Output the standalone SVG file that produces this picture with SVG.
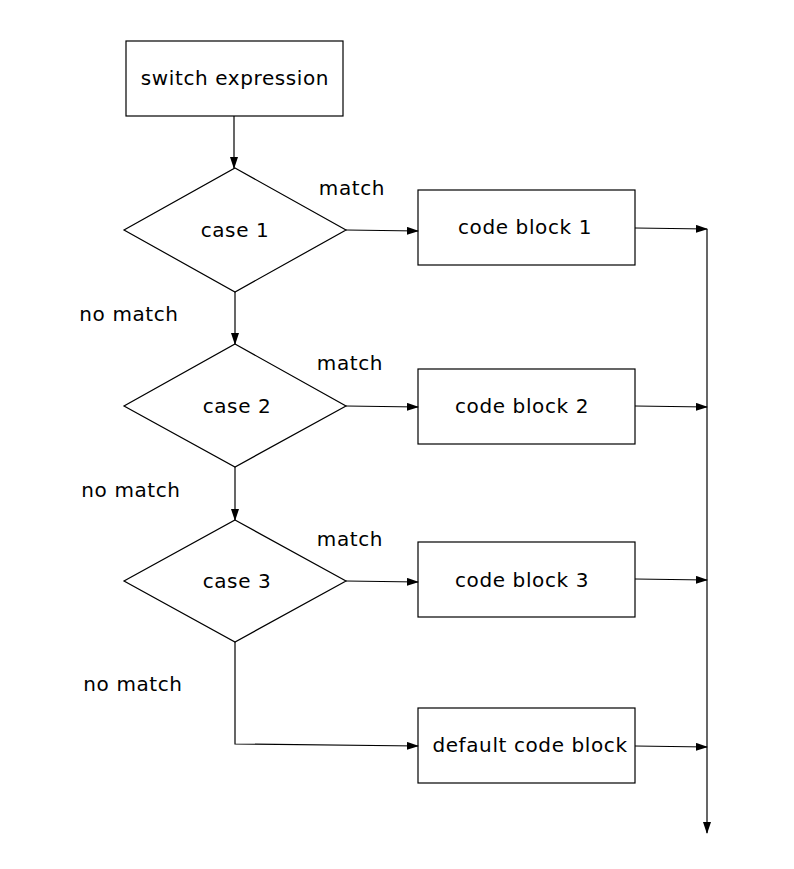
<svg xmlns="http://www.w3.org/2000/svg" width="794" height="869" viewBox="0 0 794 869">
<style>
.n{fill:#fff;stroke:#000;stroke-width:1.2}
.t{font-family:"DejaVu Sans",Verdana,sans-serif;font-size:20px;letter-spacing:0.6px;fill:#000;text-anchor:middle;dominant-baseline:central}
.c{fill:none;stroke:#000;stroke-width:1.2}
</style>
<defs><marker id="a" markerWidth="12" markerHeight="8" refX="11" refY="4" orient="auto" markerUnits="userSpaceOnUse"><path d="M0,0L12,4L0,8z" fill="#000"/></marker></defs>
<rect width="794" height="869" fill="#fff"/>
<g id="start"><rect class="n" x="126" y="41" width="217" height="75"/><text class="t" x="235" y="78">switch expression</text></g>
<g id="case1"><polygon class="n" points="235,168 346,230 235,292 124,230"/><text class="t" x="235" y="230">case 1</text></g>
<g id="case2"><polygon class="n" points="235,344 346,406 235,467 124,406"/><text class="t" x="237" y="406">case 2</text></g>
<g id="case3"><polygon class="n" points="235,520 346,581 235,642 124,581"/><text class="t" x="237" y="581">case 3</text></g>
<g id="code1"><rect class="n" x="418" y="190" width="217" height="75"/><text class="t" x="525" y="227">code block 1</text></g>
<g id="code2"><rect class="n" x="418" y="369" width="217" height="75"/><text class="t" x="522" y="406">code block 2</text></g>
<g id="code3"><rect class="n" x="418" y="542" width="217" height="75"/><text class="t" x="522" y="580">code block 3</text></g>
<g id="default"><rect class="n" x="418" y="708" width="217" height="75"/><text class="t" x="530" y="745">default code block</text></g>
<g id="labels">
<text class="t" x="352" y="188">match</text><text class="t" x="350" y="363">match</text><text class="t" x="350" y="539">match</text>
<text class="t" x="129" y="314">no match</text><text class="t" x="131" y="490">no match</text><text class="t" x="133" y="684">no match</text>
</g>
<g id="connectors">
<path class="c" d="M234,116V168" marker-end="url(#a)"/>
<path class="c" d="M235,292V344" marker-end="url(#a)"/>
<path class="c" d="M235,467V520" marker-end="url(#a)"/>
<path class="c" d="M346,230L418,231" marker-end="url(#a)"/>
<path class="c" d="M346,406L418,407" marker-end="url(#a)"/>
<path class="c" d="M346,581L418,582" marker-end="url(#a)"/>
<path class="c" d="M235,642L235,744L418,746" marker-end="url(#a)"/>
<path class="c" d="M635,228L707,229" marker-end="url(#a)"/>
<path class="c" d="M635,406L707,407" marker-end="url(#a)"/>
<path class="c" d="M635,579L707,580" marker-end="url(#a)"/>
<path class="c" d="M635,746L707,747" marker-end="url(#a)"/>
<path class="c" d="M707,229V833" marker-end="url(#a)"/>
</g>
</svg>
